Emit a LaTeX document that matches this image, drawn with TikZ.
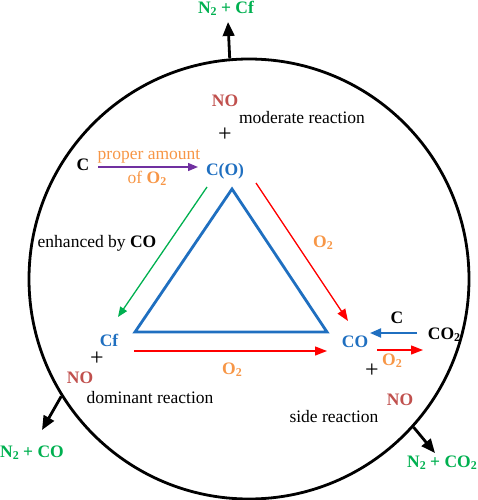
\documentclass[tikz,border=0pt]{standalone}
\usepackage{fontspec}
\setmainfont{Liberation Serif}
\usetikzlibrary{arrows.meta}
\definecolor{cblue}{HTML}{1F6FC0}
\definecolor{cgreen}{HTML}{00B050}
\definecolor{cred}{HTML}{FF0000}
\definecolor{corange}{HTML}{F79646}
\definecolor{cno}{HTML}{C0504D}
\definecolor{cpurple}{HTML}{7030A0}
\newcommand\subtwo{\raisebox{-0.25ex}{\fontsize{12}{12}\selectfont 2}}
\tikzset{
  lbl/.style={font=\fontsize{17.5}{20}\selectfont, inner sep=0pt},
  blbl/.style={lbl, font=\fontsize{17.5}{20}\selectfont\bfseries},
  plus/.style={font=\fontsize{24}{24}\selectfont, inner sep=0pt},
  species/.style={blbl, text=cblue},
  product/.style={blbl, text=cgreen},
  nolbl/.style={blbl, text=cno},
  o2lbl/.style={blbl, text=corange},
  thinarrow/.style={line width=1.3pt, -{Triangle[length=12pt,width=9pt]}},
  outarrow/.style={line width=2.8pt, -{Triangle[length=14pt,width=11.5pt]}},
}
\begin{document}
\begin{tikzpicture}[x=1pt,y=-1pt]
\useasboundingbox (0,0) rectangle (478,500);
% outer ring
\node[draw, line width=2.8pt, circle, minimum size=440pt, inner sep=0pt] (ring) at (249,279) {};
% triangle
\coordinate (tA) at (232,189);
\coordinate (tB) at (135,332);
\coordinate (tC) at (327,332);
\draw[cblue, line width=2.8pt, line join=miter] (tB) -- (tC) -- (tA) -- cycle;
% species
\node[species] (cO) at (225,171) {C(O)};
\node[species] (cf) at (109,340) {Cf};
\node[species] (co) at (355,342) {CO};
\node[blbl] (cl) at (83,165) {C};
\node[blbl] (co2) at (444,335) {CO\subtwo};
\node[blbl] (cc) at (397,318) {C};
% NO and plus
\node[nolbl] (no1) at (225,101) {NO};
\node[plus] (p1) at (225,135) {+};
\node[lbl] (mod) at (302,118) {moderate reaction};
\node[plus] (p2) at (97,359) {+};
\node[nolbl] (no2) at (80,378) {NO};
\node[lbl] (dom) at (150,398) {dominant reaction};
\node[plus] (p3) at (372,371) {+};
\node[nolbl] (no3) at (400,400) {NO};
\node[lbl] (side) at (334,417) {side reaction};
% labels
\node[lbl, text=corange] (prop) at (149,156) {proper amount};
\node[lbl, text=corange] (ofo2) at (147,178) {of \textbf{O\subtwo}};
\node[lbl] (enh) at (97,243) {enhanced by \textbf{CO}};
\node[o2lbl] (o2a) at (323,243) {O\subtwo};
\node[o2lbl] (o2b) at (232,370) {O\subtwo};
\node[o2lbl] (o2c) at (392,361) {O\subtwo};
% products
\node[product] (pr1) at (226,8) {N\subtwo\ + Cf};
\node[product] (pr2) at (32,453) {N\subtwo\ + CO};
\node[product] (pr3) at (442,463) {N\subtwo\ + CO\subtwo};
% arrow ends
\coordinate (e1) at (228,22);
\coordinate (e2) at (42,430);
\coordinate (e3) at (435,453);
\draw[outarrow] (ring.95.5) -- (e1);
\draw[outarrow] (ring.212.1) -- (e2);
\draw[outarrow] (ring.318.3) -- (e3);
% inner arrows
\coordinate (pa1) at (98,167);
\coordinate (pa2) at (198,167);
\draw[thinarrow, cpurple, -{Triangle[length=10pt,width=8pt]}] (pa1) -- (pa2);
\coordinate (ga1) at (207,187);
\coordinate (ga2) at (118,317);
\draw[thinarrow, cgreen, -{Triangle[length=10pt,width=8pt]}] (ga1) -- (ga2);
\coordinate (ra1) at (256,183);
\coordinate (ra2) at (348,321);
\draw[thinarrow, cred] (ra1) -- (ra2);
\coordinate (rb1) at (134,351);
\coordinate (rb2) at (327,351);
\draw[thinarrow, cred] (rb1) -- (rb2);
\coordinate (rc1) at (377,350);
\coordinate (rc2) at (423,350);
\draw[thinarrow, cred] (rc1) -- (rc2);
\coordinate (ba1) at (417,333);
\coordinate (ba2) at (370,333);
\draw[cblue, line width=2pt, -{Triangle[length=11pt,width=9pt]}] (ba1) -- (ba2);
\end{tikzpicture}
\end{document}
